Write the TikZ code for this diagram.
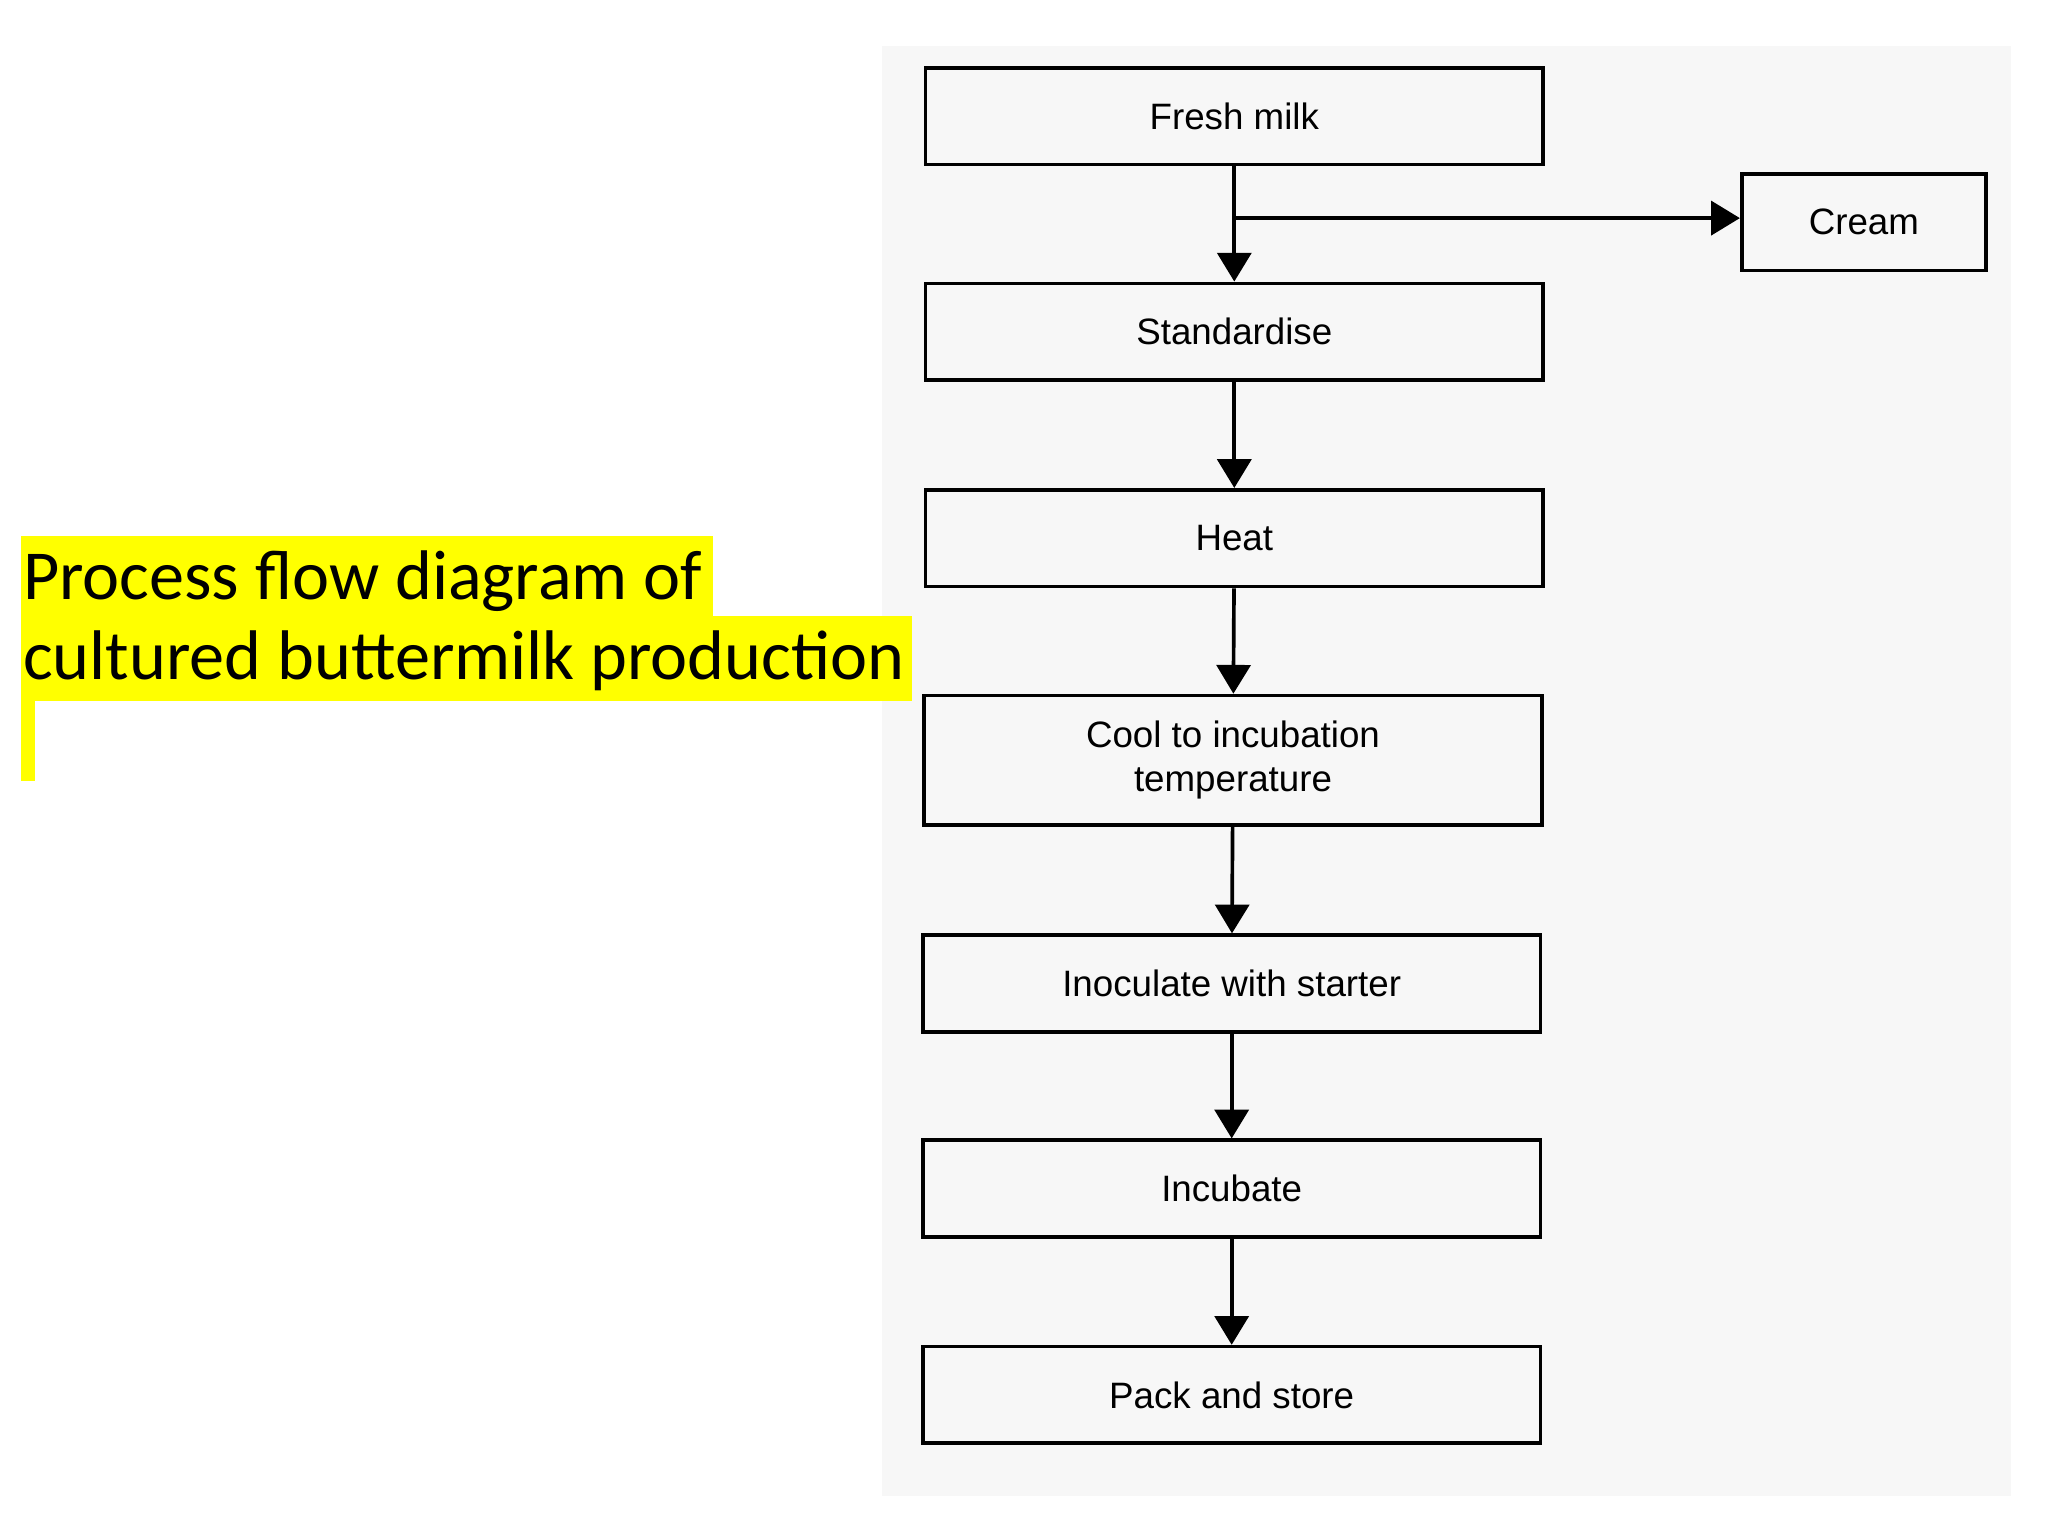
\documentclass[tikz,border=0pt]{standalone}
\usepackage{fontspec}
\setmainfont{Liberation Sans}
\newfontfamily\titlefont{Carlito}
\usetikzlibrary{positioning,arrows.meta}
\definecolor{hilite}{RGB}{255,255,0}
\definecolor{paper}{RGB}{247,247,247}
\begin{document}
\begin{tikzpicture}
    \tikzstyle{stage}=[rectangle,draw,thick,minimum width=4.73cm,minimum height=0.74cm,align=center,font=\fontsize{8}{9.5}\selectfont,inner sep=0pt]
    \tikzstyle{flow}=[thick,-{Triangle[length=0.22cm,width=0.26cm]}]
    \useasboundingbox (0,0) rectangle (15.68,-11.76);
    \fill[paper] (6.75,-0.35) rectangle (15.40,-11.45);
    % title
    \fill[hilite] (0.16,-4.10) rectangle (5.46,-4.72);
    \fill[hilite] (0.16,-4.72) rectangle (6.98,-5.37);
    \fill[hilite] (0.16,-5.37) rectangle (0.27,-5.98);
    \node[anchor=west,inner sep=0pt,font=\titlefont\fontsize{15.3}{18}\selectfont] (title1) at (0.17,-4.45) {Process flow diagram of};
    \node[anchor=west,inner sep=0pt,font=\titlefont\fontsize{15.3}{18}\selectfont] (title2) at (0.17,-5.06) {cultured buttermilk production};
    % process steps
    \node[stage] (milk) at (9.45,-0.89) {Fresh milk};
    \node[stage] (std) at (9.45,-2.54) {Standardise};
    \node[stage] (heat) at (9.45,-4.12) {Heat};
    \node[stage,minimum height=0.99cm] (cool) at (9.44,-5.82) {Cool to incubation\\temperature};
    \node[stage] (inoc) at (9.43,-7.53) {Inoculate with starter};
    \node[stage] (incub) at (9.43,-9.10) {Incubate};
    \node[stage] (pack) at (9.43,-10.68) {Pack and store};
    \node[stage,minimum width=1.87cm] (cream) at (14.27,-1.70) {Cream};
    \coordinate (split) at (milk.south |- 0,-1.67);
    \draw[flow] (milk) -- (std);
    \draw[flow] (split) -- (split -| cream.west);
    \draw[flow] (std) -- (heat);
    \draw[flow] (heat) -- (cool);
    \draw[flow] (cool) -- (inoc);
    \draw[flow] (inoc) -- (incub);
    \draw[flow] (incub) -- (pack);
\end{tikzpicture}
\end{document}
